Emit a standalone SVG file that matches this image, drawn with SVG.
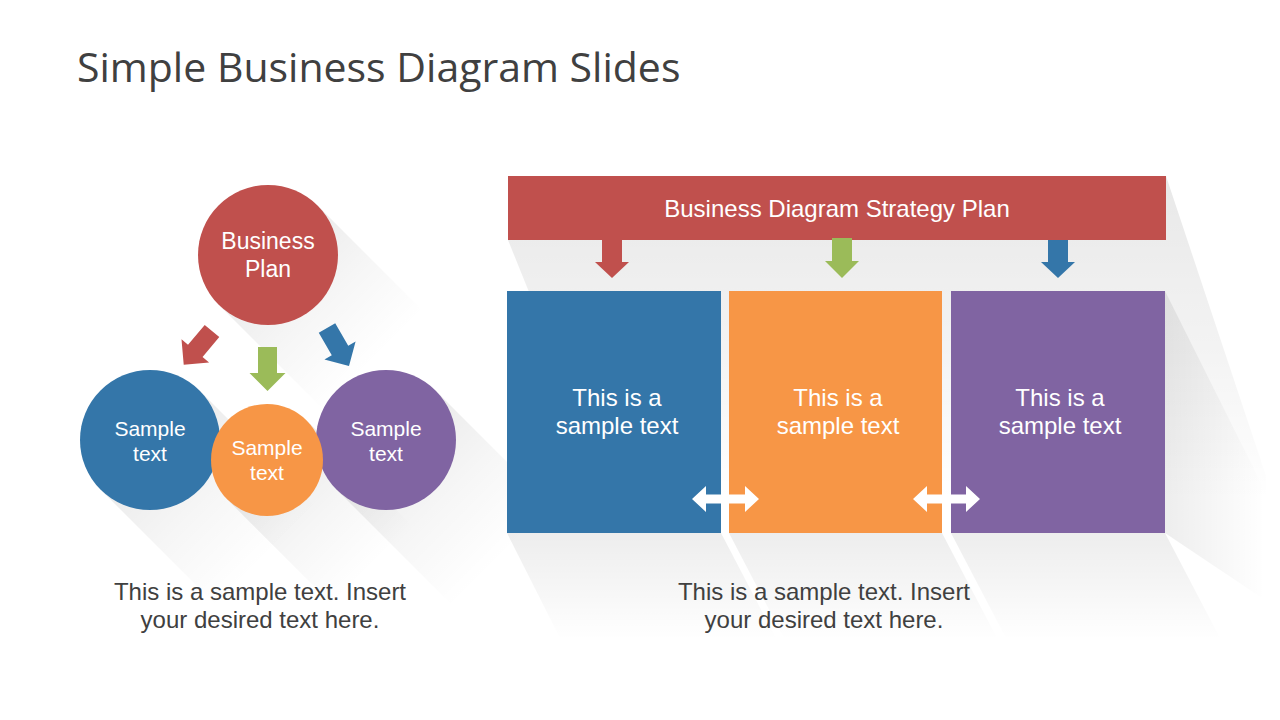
<svg xmlns="http://www.w3.org/2000/svg" width="1280" height="720" viewBox="0 0 1280 720">
<style>
text{font-family:"Liberation Sans",Arial,sans-serif;}
.title{font-family:"Open Sans","Liberation Sans",sans-serif;font-size:41px;fill:#404040;}
.w{fill:#ffffff;text-anchor:middle;}
.cap{fill:#404040;font-size:24px;text-anchor:middle;}
.red{fill:#C0504D;}.blue{fill:#3476A9;}.orange{fill:#F79646;}.purple{fill:#8064A2;}.green{fill:#9BBB59;}
.dbl{fill:#ffffff;}
</style>
<defs>
<linearGradient id="cs" x1="0.24" y1="0.24" x2="0.76" y2="0.76">
<stop offset="0" stop-color="#000" stop-opacity="0.08"/>
<stop offset="0.5" stop-color="#000" stop-opacity="0.035"/>
<stop offset="1" stop-color="#000" stop-opacity="0"/>
</linearGradient>
<linearGradient id="bs" gradientUnits="userSpaceOnUse" x1="0" y1="176" x2="0" y2="500">
<stop offset="0" stop-color="#000" stop-opacity="0.09"/>
<stop offset="0.5" stop-color="#000" stop-opacity="0.05"/>
<stop offset="1" stop-color="#000" stop-opacity="0"/>
</linearGradient>
<linearGradient id="rs" gradientUnits="userSpaceOnUse" x1="0" y1="533" x2="0" y2="640">
<stop offset="0" stop-color="#000" stop-opacity="0.07"/>
<stop offset="0.6" stop-color="#000" stop-opacity="0.03"/>
<stop offset="1" stop-color="#000" stop-opacity="0"/>
</linearGradient>
<linearGradient id="ps" gradientUnits="userSpaceOnUse" x1="1165" y1="0" x2="1265" y2="0">
<stop offset="0" stop-color="#000" stop-opacity="0.07"/>
<stop offset="1" stop-color="#000" stop-opacity="0"/>
</linearGradient>
<polygon id="arr" points="-9.5,0 9.5,0 9.5,26 18,26 0,44 -18,26 -9.5,26"/>
<polygon id="arr2" points="-10,0 10,0 10,22 17,22 0,38 -17,22 -10,22"/>
<polygon id="dblarr" points="0,0 14,-13 14,-4.5 53,-4.5 53,-13 67,0 53,13 53,4.5 14,4.5 14,13"/>
</defs>
<rect width="1280" height="720" fill="#ffffff"/>
<text class="title" x="77" y="82">Simple Business Diagram Slides</text>

<g id="shadows">
<polygon fill="url(#cs)" points="317.5,205.5 423.5,311.5 324.5,410.5 218.5,304.5"/>
<polygon fill="url(#cs)" points="199.5,390.5 319.5,510.5 220.5,609.5 100.5,489.5"/>
<polygon fill="url(#cs)" points="306.6,420.4 419.6,533.4 340.4,612.6 227.4,499.6"/>
<polygon fill="url(#cs)" points="435.5,390.5 555.5,510.5 456.5,609.5 336.5,489.5"/>
<polygon fill="url(#bs)" points="508,176 1166,176 1266,476 1266,500 613,500 508,240"/>
<polygon fill="url(#ps)" points="1165,291 1265,491 1265,600 1165,533"/>
<polygon fill="url(#rs)" points="507,533 721,533 777,640 561,640"/>
<polygon fill="url(#rs)" points="729,533 942,533 998,640 785,640"/>
<polygon fill="url(#rs)" points="951,533 1165,533 1221,640 1007,640"/>
</g>

<g id="node-business-plan">
<circle class="red" cx="268" cy="255" r="70"/>
<text class="w" x="268" y="249" font-size="23">Business</text>
<text class="w" x="268" y="277" font-size="23">Plan</text>
</g>
<g id="node-sample-blue">
<circle class="blue" cx="150" cy="440" r="70"/>
<text class="w" x="150" y="436" font-size="21">Sample</text>
<text class="w" x="150" y="461" font-size="21">text</text>
</g>
<g id="node-sample-purple">
<circle class="purple" cx="386" cy="440" r="70"/>
<text class="w" x="386" y="436" font-size="21">Sample</text>
<text class="w" x="386" y="461" font-size="21">text</text>
</g>
<g id="node-sample-orange">
<circle class="orange" cx="267" cy="460" r="56"/>
<text class="w" x="267" y="455" font-size="21">Sample</text>
<text class="w" x="267" y="480" font-size="21">text</text>
</g>

<g id="node-strategy-bar">
<rect class="red" x="508" y="176" width="658" height="64"/>
<text class="w" x="837" y="217" font-size="24">Business Diagram Strategy Plan</text>
</g>
<g id="node-box-blue">
<rect class="blue" x="507" y="291" width="214" height="242"/>
<text class="w" x="617" y="406" font-size="24">This is a</text>
<text class="w" x="617" y="434" font-size="24">sample text</text>
</g>
<g id="node-box-orange">
<rect class="orange" x="729" y="291" width="213" height="242"/>
<text class="w" x="838" y="406" font-size="24">This is a</text>
<text class="w" x="838" y="434" font-size="24">sample text</text>
</g>
<g id="node-box-purple">
<rect class="purple" x="951" y="291" width="214" height="242"/>
<text class="w" x="1060" y="406" font-size="24">This is a</text>
<text class="w" x="1060" y="434" font-size="24">sample text</text>
</g>

<g id="connectors">
<use href="#arr" class="red" transform="translate(212,331) rotate(40)"/>
<use href="#arr" class="green" transform="translate(267.5,347)"/>
<use href="#arr" class="blue" transform="translate(327,328) rotate(-30)"/>
<use href="#arr2" class="red" transform="translate(612,240)"/>
<use href="#arr2" class="green" transform="translate(842,238) scale(1,1.05)"/>
<use href="#arr2" class="blue" transform="translate(1058,240)"/>
<use href="#dblarr" class="dbl" transform="translate(692,499)"/>
<use href="#dblarr" class="dbl" transform="translate(913,499)"/>
</g>

<g id="captions">
<text class="cap" x="260" y="600">This is a sample text. Insert</text>
<text class="cap" x="260" y="628">your desired text here.</text>
<text class="cap" x="824" y="600">This is a sample text. Insert</text>
<text class="cap" x="824" y="628">your desired text here.</text>
</g>
</svg>
